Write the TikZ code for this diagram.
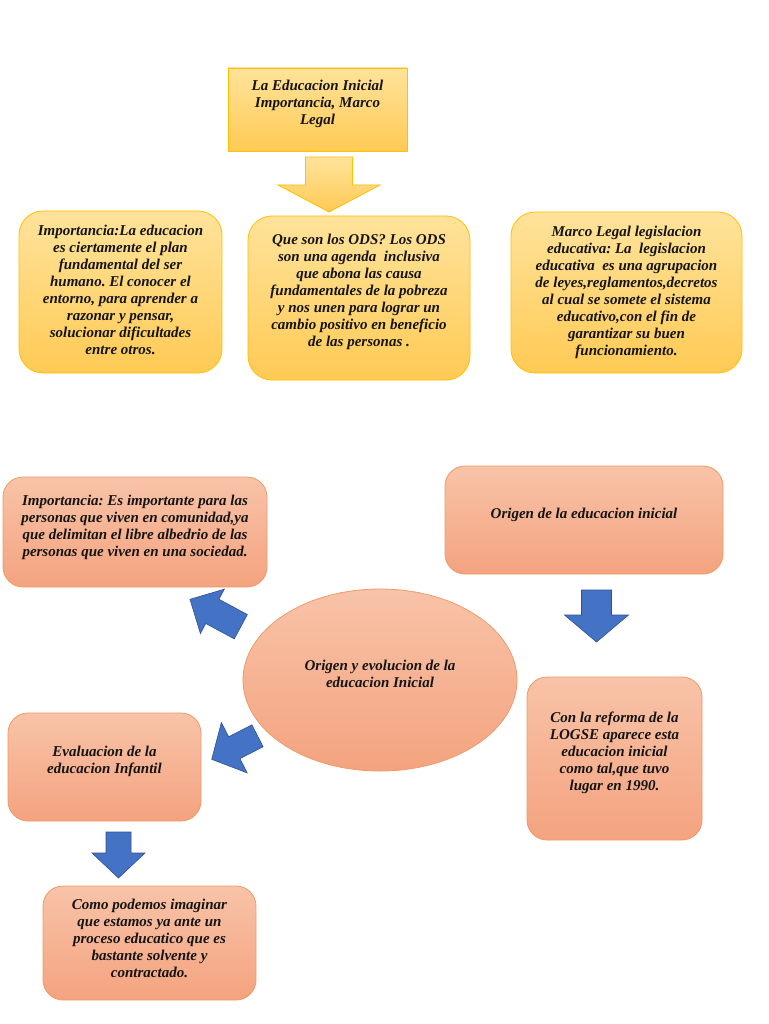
\documentclass[tikz,border=0pt]{standalone}
\usepackage{fontspec}
\setmainfont{Liberation Serif}
\usetikzlibrary{calc,shapes.geometric}
\definecolor{ytop}{HTML}{FFE39B}
\definecolor{ybot}{HTML}{FFCA55}
\definecolor{yline}{HTML}{FFC000}
\definecolor{stop}{HTML}{F8C3A8}
\definecolor{sbot}{HTML}{F4A37F}
\definecolor{sline}{HTML}{F09A68}
\definecolor{bfill}{HTML}{4472C4}
\definecolor{bline}{HTML}{2F528F}
\definecolor{ink}{HTML}{141414}
\frenchspacing
\tikzset{
  ybox/.style={draw=yline, line width=0.8pt, top color=ytop, bottom color=ybot, rounded corners=24pt, inner sep=0pt},
  sbox/.style={draw=sline, line width=0.8pt, top color=stop, bottom color=sbot, rounded corners=20pt, inner sep=0pt},
  txt/.style={font=\fontsize{15}{17}\selectfont\bfseries\itshape\frenchspacing, align=center, inner sep=0pt, text=ink},
  bluearrow/.style={fill=bfill, draw=bline, line width=0.6pt, line join=miter},
  yellowarrow/.style={draw=yline, line width=0.8pt, top color=ytop, bottom color=ybot, line join=miter},
}
\newcommand\blockarr[6]{%
  \coordinate (#2-h) at ($(#3)!#6!(#2)$);
  \draw[#1] ($(#2)!#4!90:(#3)$) -- ($(#2-h)!#4!-90:(#2)$) -- ($(#2-h)!#5!-90:(#2)$) -- (#3)
    -- ($(#2-h)!#5!90:(#2)$) -- ($(#2-h)!#4!90:(#2)$) -- ($(#2)!#4!-90:(#3)$) -- cycle;}
\begin{document}
\begin{tikzpicture}[x=1pt,y=-1pt]
\fill[white] (0,0) rectangle (768,1024);
\useasboundingbox (0,0) rectangle (768,1024);

% top title
\node[ybox, rounded corners=0pt, minimum width=179pt, minimum height=83pt] (title) at (317.5,109.5) {};
\node[txt] (titlet) at (317.5,104) {La Educacion Inicial\\Importancia, Marco\\Legal};

% yellow boxes
\node[ybox, minimum width=203pt, minimum height=162pt] (b1) at (120.5,292) {};
\node[txt] (b1t) at (120.5,290) {Importancia:La educacion\\es ciertamente el plan\\fundamental del ser\\humano. El conocer el\\entorno, para aprender a\\razonar y pensar,\\solucionar dificultades\\entre otros.};
\node[ybox, minimum width=222pt, minimum height=164pt] (b2) at (359,298) {};
\node[txt] (b2t) at (359,292) {Que son los ODS? Los ODS\\son una agenda\ \ inclusiva\\que abona las causa\\fundamentales de la pobreza\\y nos unen para lograr un\\cambio positivo en beneficio\\de las personas .};
\node[ybox, minimum width=231pt, minimum height=161pt] (b3) at (626.5,292.5) {};
\node[txt] (b3t) at (626.5,292) {Marco Legal legislacion\\educativa: La\ \ legislacion\\educativa\ \ es una agrupacion\\de leyes,reglamentos,decretos\\al cual se somete el sistema\\educativo,con el fin de\\garantizar su buen\\funcionamiento.};

% top arrow
\coordinate (ya0) at (329,157);
\coordinate (ya1) at (329,212);
\blockarr{yellowarrow}{ya0}{ya1}{23.5pt}{51pt}{27pt}

% salmon boxes
\node[sbox, minimum width=264pt, minimum height=110pt] (s1) at (135,532) {};
\node[txt] (s1t) at (135,527) {Importancia: Es importante para las\\personas que viven en comunidad,ya\\que delimitan el libre albedrio de las\\personas que viven en una sociedad.};
\node[sbox, minimum width=278pt, minimum height=108pt] (s2) at (584,520) {};
\node[txt] (s2t) at (584,515) {Origen de la educacion inicial};
\node[sbox, ellipse, minimum width=274pt, minimum height=182pt] (ell) at (380,680) {};
\node[txt] (ellt) at (380,674) {Origen y evolucion de la\\educacion Inicial};
\node[sbox, minimum width=193pt, minimum height=108pt] (s3) at (104.5,767) {};
\node[txt] (s3t) at (104.5,761.5) {Evaluacion de la\\educacion Infantil};
\node[sbox, minimum width=175pt, minimum height=163pt] (s4) at (614.5,758.5) {};
\node[txt] (s4t) at (614.5,753) {Con la reforma de la\\LOGSE aparece esta\\educacion inicial\\como tal,que tuvo\\lugar en 1990.};
\node[sbox, minimum width=213pt, minimum height=114pt] (s5) at (149.5,943) {};
\node[txt] (s5t) at (149.5,938) {Como podemos imaginar\\que estamos ya ante un\\proceso educatico que es\\bastante solvente y\\contractado.};

% blue arrows
\coordinate (ba0) at (596.5,590);
\coordinate (ba1) at (596.5,642);
\blockarr{bluearrow}{ba0}{ba1}{15pt}{32pt}{27pt}
\coordinate (bb0) at (240.8,626.7);
\coordinate (bb1) at (190,599.3);
\blockarr{bluearrow}{bb0}{bb1}{13.8pt}{25.2pt}{25.4pt}
\coordinate (bc0) at (257.5,735.8);
\coordinate (bc1) at (211.7,759.3);
\blockarr{bluearrow}{bc0}{bc1}{12.3pt}{28.3pt}{25.4pt}
\coordinate (bd0) at (118.5,832);
\coordinate (bd1) at (118.5,878);
\blockarr{bluearrow}{bd0}{bd1}{12.5pt}{26.5pt}{25pt}
\end{tikzpicture}
\end{document}
